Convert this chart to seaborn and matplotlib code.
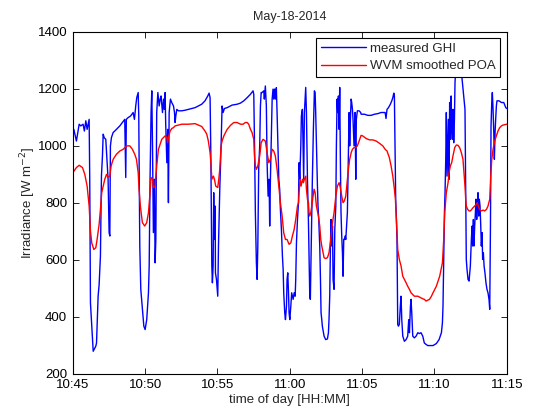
import matplotlib
matplotlib.use("Agg")
import matplotlib.pyplot as plt
import seaborn as sns

# minutes after 10:45 and measured GHI [W m-2]
ghi_min = [0.07, 0.25, 0.44, 0.55, 0.71, 0.80, 0.90, 0.99, 1.13, 1.17, 1.22, 1.41, 1.45, 1.59,
           1.64, 1.75, 1.82, 1.91, 1.98, 2.05, 2.10, 2.17, 2.28, 2.44, 2.51, 2.56, 2.60, 2.67,
           2.79, 2.90, 3.25, 3.59, 3.66, 3.70, 3.82, 4.00, 4.17, 4.26, 4.35, 4.42, 4.52, 4.56,
           4.63, 4.70, 4.81, 4.91,
           5.00, 5.11, 5.23, 5.28, 5.34, 5.41, 5.46, 5.51, 5.57, 5.64, 5.69, 5.74, 5.80, 5.88,
           5.97, 6.04, 6.10, 6.20, 6.27, 6.33, 6.38, 6.42, 6.50, 6.56, 6.61, 6.66, 6.75, 6.84,
           6.96, 7.03, 7.07, 7.12, 7.19, 7.30, 7.53, 7.76, 8.22, 8.45, 8.68, 8.91, 9.14, 9.33,
           9.42, 9.49, 9.54, 9.61, 9.65, 9.70, 9.74, 9.79, 9.84,
           9.86, 9.93, 10.00, 10.02, 10.07, 10.16, 10.21, 10.25, 10.32, 10.39, 10.48, 10.67,
           11.01, 11.36, 11.59, 11.82, 12.05, 12.28, 12.46, 12.51, 12.56, 12.62, 12.69, 12.74,
           12.79, 12.85, 12.92, 12.97, 13.02, 13.08, 13.20, 13.24, 13.31, 13.38, 13.43, 13.50,
           13.57, 13.61, 13.66, 13.71, 13.78, 13.84, 13.89, 13.94, 14.00, 14.07, 14.12, 14.19,
           14.24, 14.30, 14.35, 14.42, 14.49, 14.54, 14.58, 14.65, 14.70, 14.77, 14.81, 14.86,
           14.91,
           14.95, 15.00, 15.07, 15.13, 15.18, 15.23, 15.30, 15.37, 15.41, 15.46, 15.53, 15.60,
           15.64, 15.69, 15.76, 15.80, 15.87, 15.92, 15.96, 16.01, 16.06, 16.10, 16.15, 16.22,
           16.29, 16.33, 16.38, 16.42, 16.47, 16.52, 16.56, 16.63, 16.70, 16.75, 16.79, 16.86,
           16.91, 16.95, 17.00, 17.07, 17.12, 17.16, 17.21, 17.25, 17.37, 17.48, 17.60, 17.67,
           17.71, 17.76, 17.81, 17.85, 17.90, 17.95, 17.99, 18.06, 18.11, 18.18, 18.22, 18.27,
           18.31, 18.36, 18.41, 18.45, 18.50, 18.54, 18.59, 18.64, 18.68, 18.73, 18.77, 18.82,
           18.87, 18.91, 18.98, 19.05, 19.10, 19.14, 19.19, 19.24, 19.28, 19.33, 19.37, 19.44,
           19.51, 19.56, 19.60, 19.67, 19.79, 19.90,
           19.93, 20.16, 20.39, 20.62, 20.85, 21.08, 21.31, 21.49, 21.59, 21.65, 21.72, 21.82,
           21.95, 22.05, 22.12, 22.19, 22.23, 22.28, 22.32, 22.37, 22.41, 22.46, 22.51, 22.57,
           22.64, 22.69, 22.74, 22.81, 22.92, 23.04, 23.15, 23.22, 23.27, 23.34, 23.38, 23.43,
           23.50, 23.61, 23.73, 23.85, 23.96, 24.07, 24.19, 24.30, 24.42, 24.53, 24.77,
           24.90, 25.13, 25.32, 25.48, 25.55, 25.59, 25.64, 25.69, 25.73, 25.78, 25.82, 25.87,
           25.92, 25.96, 26.01, 26.05, 26.10, 26.15, 26.19, 26.24, 26.28, 26.33, 26.38, 26.42,
           26.47, 26.60, 26.80, 27.11, 27.16, 27.20, 27.25, 27.32, 27.39, 27.44, 27.48, 27.55,
           27.60, 27.64, 27.69, 27.73, 27.78, 27.83, 27.87, 27.92, 27.96, 28.01, 28.06, 28.10,
           28.15, 28.20, 28.24, 28.29, 28.33, 28.38, 28.43, 28.49, 28.56, 28.63, 28.70, 28.77,
           28.82, 28.87, 28.91, 28.96, 29.00, 29.05, 29.10, 29.14, 29.19, 29.23, 29.28, 29.32,
           29.46, 29.63, 29.79, 29.93, 30.00]
ghi_val = [1057, 1016, 1075, 1069, 1075, 1051, 1087, 1057, 1092, 888, 449, 279, 283, 297,
           308, 472, 513, 613, 893, 964, 1040, 1028, 1022, 882, 695, 683, 999, 1028,
           1046, 1051, 1069, 1092, 888, 1092, 1098, 1104, 1116, 1092, 1139, 1168, 1186, 1104,
           648, 496, 426, 367,
           355, 390, 484, 578, 882, 1116, 1192, 999, 695, 882, 589, 671, 1116, 1186,
           1139, 1163, 1174, 1116, 1163, 1127, 1186, 1081, 940, 1057, 800, 1116, 1163, 1151,
           1139, 1116, 1081, 1104, 1127, 1122, 1122, 1124, 1130, 1133, 1139, 1145, 1157, 1174,
           1184, 1168, 975, 578, 519, 578, 835, 671, 788,
           554, 531, 484, 472, 648, 847, 929, 999, 1139, 1116, 1130, 1133,
           1142, 1145, 1149, 1157, 1168, 1180, 1192, 1180, 1010, 765, 589, 531,
           648, 917, 999, 1139, 1186, 1186, 1192, 1163, 1209, 1139, 940, 823,
           882, 718, 882, 999, 1163, 1198, 1163, 1198, 1163, 1203, 1116, 975,
           882, 847, 776, 706, 613, 566, 484, 414, 390, 437, 531, 554,
           484,
           414, 390, 437, 484, 472, 461, 484, 472, 531, 659, 741, 800,
           940, 882, 999, 1104, 1127, 999, 882, 1116, 1163, 1204, 1116, 882,
           730, 613, 472, 461, 624, 765, 882, 1057, 1192, 1186, 1116, 964,
           858, 788, 741, 648, 531, 414, 390, 367, 332, 320, 322, 344,
           390, 472, 648, 741, 648, 718, 531, 496, 706, 788, 999, 1163,
           1116, 1174, 1057, 1204, 929, 765, 683, 624, 542, 671, 671, 683,
           671, 706, 765, 975, 1116, 999, 1092, 1163, 1151, 1127, 1092, 999,
           1116, 882, 1092, 1122, 1122, 1116,
           1110, 1110, 1106, 1106, 1110, 1112, 1116, 1116, 1116, 1095, 1127, 1133,
           1145, 1157, 1168, 1184, 1174, 964, 812, 741, 671, 373, 367, 373,
           437, 472, 390, 332, 314, 320, 332, 390, 344, 437, 461, 414,
           332, 326, 332, 344, 341, 344, 332, 308, 303, 299, 299,
           299, 306, 320, 344, 379, 437, 601, 765, 835, 952, 1116, 893,
           1010, 1092, 882, 1151, 1022, 1174, 1069, 1022, 1127, 1010, 1092, 1221,
           1268, 1300, 1290, 1127, 812, 601, 566, 531, 525, 554, 578, 671,
           718, 648, 741, 648, 718, 765, 812, 741, 788, 835, 753, 812,
           788, 718, 648, 695, 601, 624, 578, 554, 519, 496, 484, 461,
           426, 718, 1069, 1151, 1186, 1127, 1046, 952, 1046, 1092, 1139, 1157,
           1157, 1151, 1151, 1133, 1130]

# minutes after 10:45 and WVM smoothed POA [W m-2]
poa_min = [0.00, 0.25, 0.44, 0.67, 0.83, 0.99, 1.13, 1.22, 1.31, 1.45, 1.59, 1.68, 1.82,
           1.91, 2.00, 2.10, 2.21, 2.33, 2.44, 2.56, 2.65, 2.79, 3.02, 3.25, 3.48, 3.71,
           3.94, 4.12, 4.28, 4.40, 4.52, 4.58, 4.67, 4.81, 4.97,
           5.11, 5.23, 5.34, 5.41, 5.51, 5.57, 5.69, 5.80, 5.92, 6.04, 6.15, 6.27, 6.38,
           6.50, 6.56, 6.61, 6.73, 6.84, 6.96, 7.07, 7.30, 7.53, 7.99, 8.45, 8.68, 8.91,
           9.14, 9.26, 9.37, 9.49, 9.56, 9.61, 9.72, 9.79,
           9.88, 10.02, 10.09, 10.16, 10.25, 10.32, 10.44, 10.67, 10.90, 11.13, 11.36, 11.59,
           11.77, 11.93, 12.05, 12.16, 12.28, 12.39, 12.51, 12.56, 12.62, 12.69, 12.79, 12.92,
           13.02, 13.15, 13.31, 13.43, 13.55, 13.66, 13.78, 13.89, 14.00, 14.12, 14.24, 14.35,
           14.47, 14.58, 14.70, 14.81,
           14.95, 15.07, 15.18, 15.30, 15.41, 15.53, 15.60, 15.64, 15.71, 15.78, 15.87, 15.94,
           16.01, 16.10, 16.15, 16.22, 16.29, 16.33, 16.38, 16.45, 16.52, 16.61, 16.68, 16.75,
           16.84, 16.98, 17.07, 17.14, 17.21, 17.30, 17.37, 17.48, 17.60, 17.71, 17.83, 17.95,
           18.06, 18.18, 18.29, 18.41, 18.47, 18.59, 18.68, 18.77, 18.87, 18.98, 19.05, 19.14,
           19.24, 19.33, 19.44, 19.56, 19.67, 19.79,
           19.93, 20.04, 20.27, 20.51, 20.74, 20.97, 21.20, 21.43, 21.59, 21.72, 21.88, 22.00,
           22.12, 22.23, 22.30, 22.37, 22.41, 22.46, 22.57, 22.69, 22.81, 22.92, 23.04, 23.15,
           23.27, 23.38, 23.50, 23.61, 23.85, 24.07, 24.19, 24.30, 24.42, 24.53, 24.65, 24.77,
           24.90, 25.13, 25.36, 25.55, 25.64, 25.71, 25.82, 25.94, 26.01, 26.10, 26.19, 26.28,
           26.40, 26.51, 26.63, 26.74, 26.86, 26.97, 27.04, 27.11, 27.16, 27.20, 27.30, 27.39,
           27.48, 27.57, 27.66, 27.78, 27.89, 27.96, 28.03, 28.12, 28.24, 28.36, 28.47, 28.59,
           28.70, 28.82, 28.89, 28.96, 29.05, 29.16, 29.28, 29.39, 29.51, 29.63, 29.74, 30.00]
poa_val = [905, 923, 931, 923, 899, 858, 788, 700, 659, 636, 642, 671, 724,
           776, 835, 858, 882, 899, 888, 893, 929, 952, 970, 981, 987, 999,
           999, 987, 970, 952, 905, 847, 788, 730, 718,
           730, 765, 835, 888, 882, 853, 858, 929, 987, 1005, 1022, 1028, 1034,
           1028, 1010, 1028, 1051, 1060, 1063, 1069, 1072, 1075, 1075, 1077, 1072, 1067,
           1051, 1040, 1016, 975, 929, 882, 893, 882,
           858, 853, 882, 917, 999, 1016, 1034, 1057, 1071, 1081, 1081, 1075,
           1075, 1081, 1081, 1075, 1057, 1046, 1022, 964, 929, 917, 929, 964,
           1010, 1022, 1016, 975, 940, 952, 987, 981, 964, 917, 858, 800,
           753, 694, 671, 671,
           654, 659, 683, 706, 741, 788, 800, 835, 882, 858, 882, 870,
           882, 893, 847, 812, 800, 765, 753, 765, 788, 823, 847, 835,
           788, 753, 718, 671, 648, 624, 607, 604, 607, 624, 671, 730,
           765, 823, 858, 870, 858, 823, 800, 806, 823, 882, 917, 952,
           975, 987, 993, 993, 999, 1016,
           1036, 1034, 1025, 1020, 1020, 1016, 1008, 999, 987, 981, 958, 929,
           893, 847, 812, 741, 695, 636, 601, 578, 542, 531, 519, 507,
           496, 484, 478, 472, 472, 466, 463, 461, 455, 458, 461, 470,
           484, 507, 542, 589, 671, 765, 835, 870, 905, 929, 940, 964,
           993, 1002, 1001, 993, 975, 952, 905, 858, 812, 788, 776, 771,
           771, 776, 782, 788, 794, 800, 788, 776, 771, 774, 771, 776,
           788, 812, 893, 952, 987, 1016, 1034, 1051, 1063, 1069, 1072, 1075]

tick_min = [0, 5, 10, 15, 20, 25, 30]
tick_lab = ['10:45', '10:50', '10:55', '11:00', '11:05', '11:10', '11:15']
y_ticks = [200, 400, 600, 800, 1000, 1200, 1400]

sns.set_style('white')
plt.rcParams['font.family'] = ['Liberation Sans', 'DejaVu Sans']
plt.rcParams['font.size'] = 9

fig = plt.figure(figsize=(5.6, 4.2), dpi=100)
ax = fig.add_axes([0.13, 0.11, 0.775, 0.815])

sns.lineplot(x=ghi_min, y=ghi_val, color=(0, 0, 1), lw=1, label='measured GHI',
             estimator=None, sort=False, ax=ax)
sns.lineplot(x=poa_min, y=poa_val, color=(1, 0, 0), lw=1, label='WVM smoothed POA',
             estimator=None, sort=False, ax=ax)

ax.set_xlim(0, 30)
ax.set_ylim(200, 1400)
ax.set_xticks(tick_min)
ax.set_xticklabels(tick_lab)
ax.set_yticks(y_ticks)
ax.tick_params(direction='in', length=4, width=0.6, color='k', labelcolor='k',
               top=True, right=True, bottom=True, left=True, labelsize=9.5, pad=4)
for sp in ax.spines.values():
    sp.set_color('k')
    sp.set_linewidth(0.8)

ax.set_title('May-18-2014', fontsize=9, pad=8)
ax.set_xlabel('time of day [HH:MM]', fontsize=9.5, labelpad=2)
ax.set_ylabel('Irradiance [W m$^{-2}$]', fontsize=9.5, labelpad=0)

leg = ax.legend(loc='upper right', fontsize=9.5, fancybox=False, framealpha=1,
                edgecolor='k', handlelength=3.4, borderaxespad=0.5, borderpad=0.35,
                labelspacing=0.4, handletextpad=0.3)
leg.get_frame().set_linewidth(0.8)

fig.savefig('out.png', dpi=100)
